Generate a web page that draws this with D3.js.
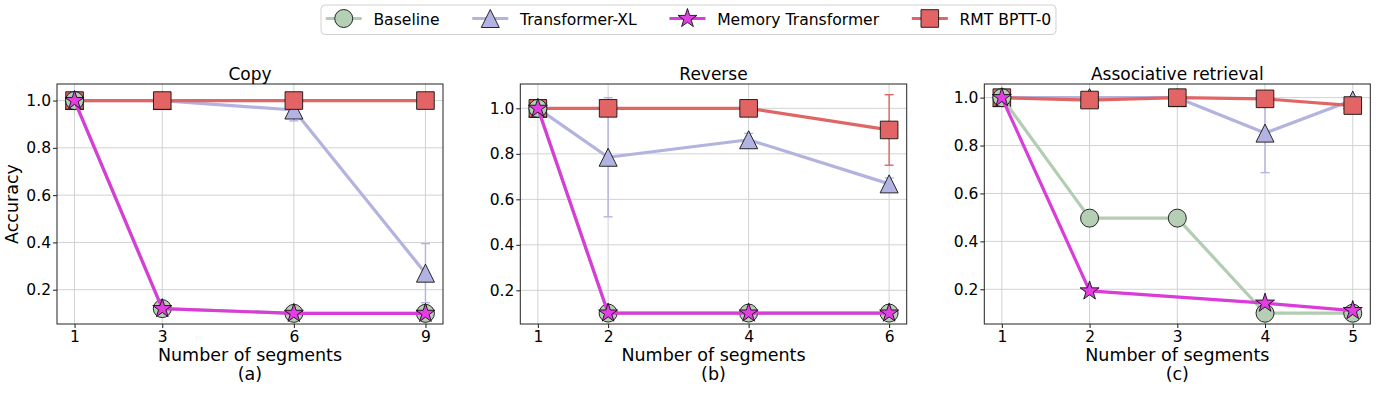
<!DOCTYPE html>
<html>
<head>
<meta charset="utf-8">
<script src="https://cdn.jsdelivr.net/npm/d3@7"></script>
<style>
  body { margin: 0; background: #fff; }
  svg { display: block; font-family: "DejaVu Sans", sans-serif; }
</style>
</head>
<body>
<div id="chart"></div>
<script>
// legend / series names
var seriesNames = ['Baseline', 'Transformer-XL', 'Memory Transformer', 'RMT BPTT-0'];

// (a) Copy
var copyX = [1, 3, 6, 9];
var copyBaseline = [1.0, 0.12, 0.10, 0.10];
var copyTxl = [1.0, 1.0, 0.96, 0.27];
var copyTxlErr = [0, 0, 0.046, 0.125];
var copyMemory = [1.0, 0.12, 0.10, 0.10];
var copyRmt = [1.0, 1.0, 1.0, 1.0];

// (b) Reverse
var reverseX = [1, 2, 4, 6];
var reverseBaseline = [1.0, 0.10, 0.10, 0.10];
var reverseTxl = [1.0, 0.785, 0.862, 0.668];
var reverseTxlErr = [0, 0.262, 0.028, 0.026];
var reverseMemory = [1.0, 0.10, 0.10, 0.10];
var reverseRmt = [1.0, 1.0, 1.0, 0.905];
var reverseRmtErr = [0, 0, 0, 0.155];

// (c) Associative retrieval
var assocX = [1, 2, 3, 4, 5];
var assocBaseline = [1.0, 0.497, 0.497, 0.10, 0.10];
var assocTxl = [1.0, 1.0, 1.0, 0.852, 0.99];
var assocTxlErr = [0, 0, 0, 0.165, 0];
var assocMemoryX = [1, 2, 4, 5];
var assocMemory = [1.0, 0.193, 0.142, 0.111];
var assocRmt = [1.0, 0.99, 1.0, 0.995, 0.967];

var yTicks = [0.2, 0.4, 0.6, 0.8, 1.0];

var colors = {
  'Baseline': { line: '#b2cdb2', fill: '#b4cfb4' },
  'Transformer-XL': { line: '#b3b3e0', fill: '#b3b3e3' },
  'Memory Transformer': { line: '#d93cd9', fill: '#e23ee2' },
  'RMT BPTT-0': { line: '#e06666', fill: '#e36464' }
};
var shapes = {
  'Baseline': 'circle',
  'Transformer-XL': 'triangle',
  'Memory Transformer': 'star',
  'RMT BPTT-0': 'square'
};

function zipPts(xs, ys, errs) {
  return xs.map(function (x, i) { return { x: x, y: ys[i], e: errs ? errs[i] : 0 }; });
}

var panels = [
  {
    title: 'Copy', sub: '(a)', left: 57, right: 443,
    xDomain: [0.6, 9.4], yDomain: [0.055, 1.07], xTicks: copyX, ylabel: true,
    series: {
      'Baseline': zipPts(copyX, copyBaseline),
      'Transformer-XL': zipPts(copyX, copyTxl, copyTxlErr),
      'Memory Transformer': zipPts(copyX, copyMemory),
      'RMT BPTT-0': zipPts(copyX, copyRmt)
    }
  },
  {
    title: 'Reverse', sub: '(b)', left: 520.3, right: 906.7,
    xDomain: [0.75, 6.25], yDomain: [0.052, 1.107], xTicks: reverseX, ylabel: false,
    series: {
      'Baseline': zipPts(reverseX, reverseBaseline),
      'Transformer-XL': zipPts(reverseX, reverseTxl, reverseTxlErr),
      'Memory Transformer': zipPts(reverseX, reverseMemory),
      'RMT BPTT-0': zipPts(reverseX, reverseRmt, reverseRmtErr)
    }
  },
  {
    title: 'Associative retrieval', sub: '(c)', left: 984.3, right: 1370.3,
    xDomain: [0.8, 5.2], yDomain: [0.055, 1.057], xTicks: assocX, ylabel: false,
    series: {
      'Baseline': zipPts(assocX, assocBaseline),
      'Transformer-XL': zipPts(assocX, assocTxl, assocTxlErr),
      'Memory Transformer': zipPts(assocMemoryX, assocMemory),
      'RMT BPTT-0': zipPts(assocX, assocRmt)
    }
  }
];

var width = 1376, height = 395;
var plotTop = 84, plotBottom = 324;
var drawOrder = ['Transformer-XL', 'RMT BPTT-0', 'Baseline', 'Memory Transformer'];

var svg = d3.select('#chart').append('svg')
  .attr('width', width)
  .attr('height', height);

// marker path in pixels, centred on 0,0
function markerPath(shape) {
  if (shape == 'circle') {
    var r = 9;
    return 'M' + r + ',0A' + r + ',' + r + ' 0 1,1 ' + (-r) + ',0A' + r + ',' + r + ' 0 1,1 ' + r + ',0Z';
  } else if (shape == 'square') {
    var h = 8.8;
    return 'M' + (-h) + ',' + (-h) + 'H' + h + 'V' + h + 'H' + (-h) + 'Z';
  } else if (shape == 'triangle') {
    var t = 9;
    return 'M0,' + (-t) + 'L' + t + ',' + t + 'L' + (-t) + ',' + t + 'Z';
  } else {
    var R = 10, ri = R * 0.382;
    var p = [];
    for (var k = 0; k < 10; k++) {
      var rr = k % 2 == 0 ? R : ri;
      var a = -Math.PI / 2 + k * Math.PI / 5;
      p.push([rr * Math.cos(a), rr * Math.sin(a)]);
    }
    return 'M' + p.map(function (q) { return q[0].toFixed(2) + ',' + q[1].toFixed(2); }).join('L') + 'Z';
  }
}

panels.forEach(function (pn) {
  var x = d3.scaleLinear().domain(pn.xDomain).range([pn.left, pn.right]);
  var y = d3.scaleLinear().domain(pn.yDomain).range([plotBottom, plotTop]);
  var g = svg.append('g');

  // grid
  g.selectAll('.gx').data(pn.xTicks).enter().append('line')
    .attr('x1', function (d) { return x(d); }).attr('x2', function (d) { return x(d); })
    .attr('y1', plotTop).attr('y2', plotBottom)
    .attr('stroke', '#d2d2d2').attr('stroke-width', 1);
  g.selectAll('.gy').data(yTicks).enter().append('line')
    .attr('x1', pn.left).attr('x2', pn.right)
    .attr('y1', function (d) { return y(d); }).attr('y2', function (d) { return y(d); })
    .attr('stroke', '#d2d2d2').attr('stroke-width', 1);

  // axes
  var xa = g.append('g').attr('transform', 'translate(0,' + plotBottom + ')')
    .call(d3.axisBottom(x).tickValues(pn.xTicks).tickFormat(d3.format('d')).tickSize(4).tickPadding(3));
  var ya = g.append('g').attr('transform', 'translate(' + pn.left + ',0)')
    .call(d3.axisLeft(y).tickValues(yTicks).tickFormat(d3.format('.1f')).tickSize(4).tickPadding(2));
  [xa, ya].forEach(function (a) {
    a.select('.domain').remove();
    a.selectAll('text').attr('font-size', 15.5).attr('fill', '#000')
      .attr('font-family', '"DejaVu Sans", sans-serif');
    a.selectAll('line').attr('stroke', '#000').attr('stroke-width', 0.9);
  });

  // spines
  g.append('rect')
    .attr('x', pn.left).attr('y', plotTop)
    .attr('width', pn.right - pn.left).attr('height', plotBottom - plotTop)
    .attr('fill', 'none').attr('stroke', '#222').attr('stroke-width', 1);

  var line = d3.line().x(function (d) { return x(d.x); }).y(function (d) { return y(d.y); });

  drawOrder.forEach(function (name) {
    var pts = pn.series[name];
    var c = colors[name];
    var sg = g.append('g');

    // error bars
    var ep = pts.filter(function (d) { return d.e > 0; });
    ep.forEach(function (d) {
      var cx = x(d.x);
      sg.append('line').attr('x1', cx).attr('x2', cx)
        .attr('y1', y(d.y - d.e)).attr('y2', y(d.y + d.e))
        .attr('stroke', c.line).attr('stroke-width', 1.4);
      [d.y - d.e, d.y + d.e].forEach(function (v) {
        sg.append('line').attr('x1', cx - 4.5).attr('x2', cx + 4.5)
          .attr('y1', y(v)).attr('y2', y(v))
          .attr('stroke', c.line).attr('stroke-width', 1.4);
      });
    });

    sg.append('path').datum(pts)
      .attr('d', line)
      .attr('fill', 'none')
      .attr('stroke', c.line)
      .attr('stroke-width', 3.2)
      .attr('stroke-linejoin', 'round');

    sg.selectAll('.m').data(pts).enter().append('path')
      .attr('d', markerPath(shapes[name]))
      .attr('transform', function (d) { return 'translate(' + x(d.x) + ',' + y(d.y) + ')'; })
      .attr('fill', c.fill)
      .attr('stroke', '#111')
      .attr('stroke-width', 0.9);
  });

  var cx = (pn.left + pn.right) / 2;
  svg.append('text').attr('x', cx).attr('y', 80)
    .attr('text-anchor', 'middle').attr('font-size', 17).text(pn.title);
  svg.append('text').attr('x', cx).attr('y', 361)
    .attr('text-anchor', 'middle').attr('font-size', 17.5).text('Number of segments');
  svg.append('text').attr('x', cx).attr('y', 380)
    .attr('text-anchor', 'middle').attr('font-size', 17.5).text(pn.sub);
  if (pn.ylabel) {
    svg.append('text')
      .attr('transform', 'translate(18,' + ((plotTop + plotBottom) / 2) + ') rotate(-90)')
      .attr('text-anchor', 'middle').attr('font-size', 17.5).text('Accuracy');
  }
});

// legend
var lg = svg.append('g');
var box = lg.append('rect');
var handleLen = 36, textPad = 11.7, colSpace = 32.7, boxPad = 4.7;
var cursor = 0;
seriesNames.forEach(function (name, i) {
  var it = lg.append('g');
  var c = colors[name];
  it.append('line').attr('x1', 0).attr('x2', handleLen).attr('y1', 18.5).attr('y2', 18.5)
    .attr('stroke', c.line).attr('stroke-width', 3.2);
  it.append('path').attr('d', markerPath(shapes[name]))
    .attr('transform', 'translate(' + (handleLen / 2) + ',18.5)')
    .attr('fill', c.fill).attr('stroke', '#111').attr('stroke-width', 0.9);
  var t = it.append('text').attr('x', handleLen + textPad).attr('y', 24.5)
    .attr('font-size', 15.6).text(name);
  var w = t.node().getComputedTextLength();
  it.attr('transform', 'translate(' + cursor + ',0)');
  cursor += handleLen + textPad + w + (i < seriesNames.length - 1 ? colSpace : 0);
});
var totalW = cursor + boxPad * 2;
var legLeft = 688.5 - totalW / 2;
lg.attr('transform', 'translate(' + (legLeft + boxPad) + ',0)');
box.attr('x', -boxPad).attr('y', 5).attr('width', totalW).attr('height', 29.5)
  .attr('rx', 4).attr('fill', '#fff').attr('stroke', '#d0d0d0').attr('stroke-width', 1);
</script>
</body>
</html>
